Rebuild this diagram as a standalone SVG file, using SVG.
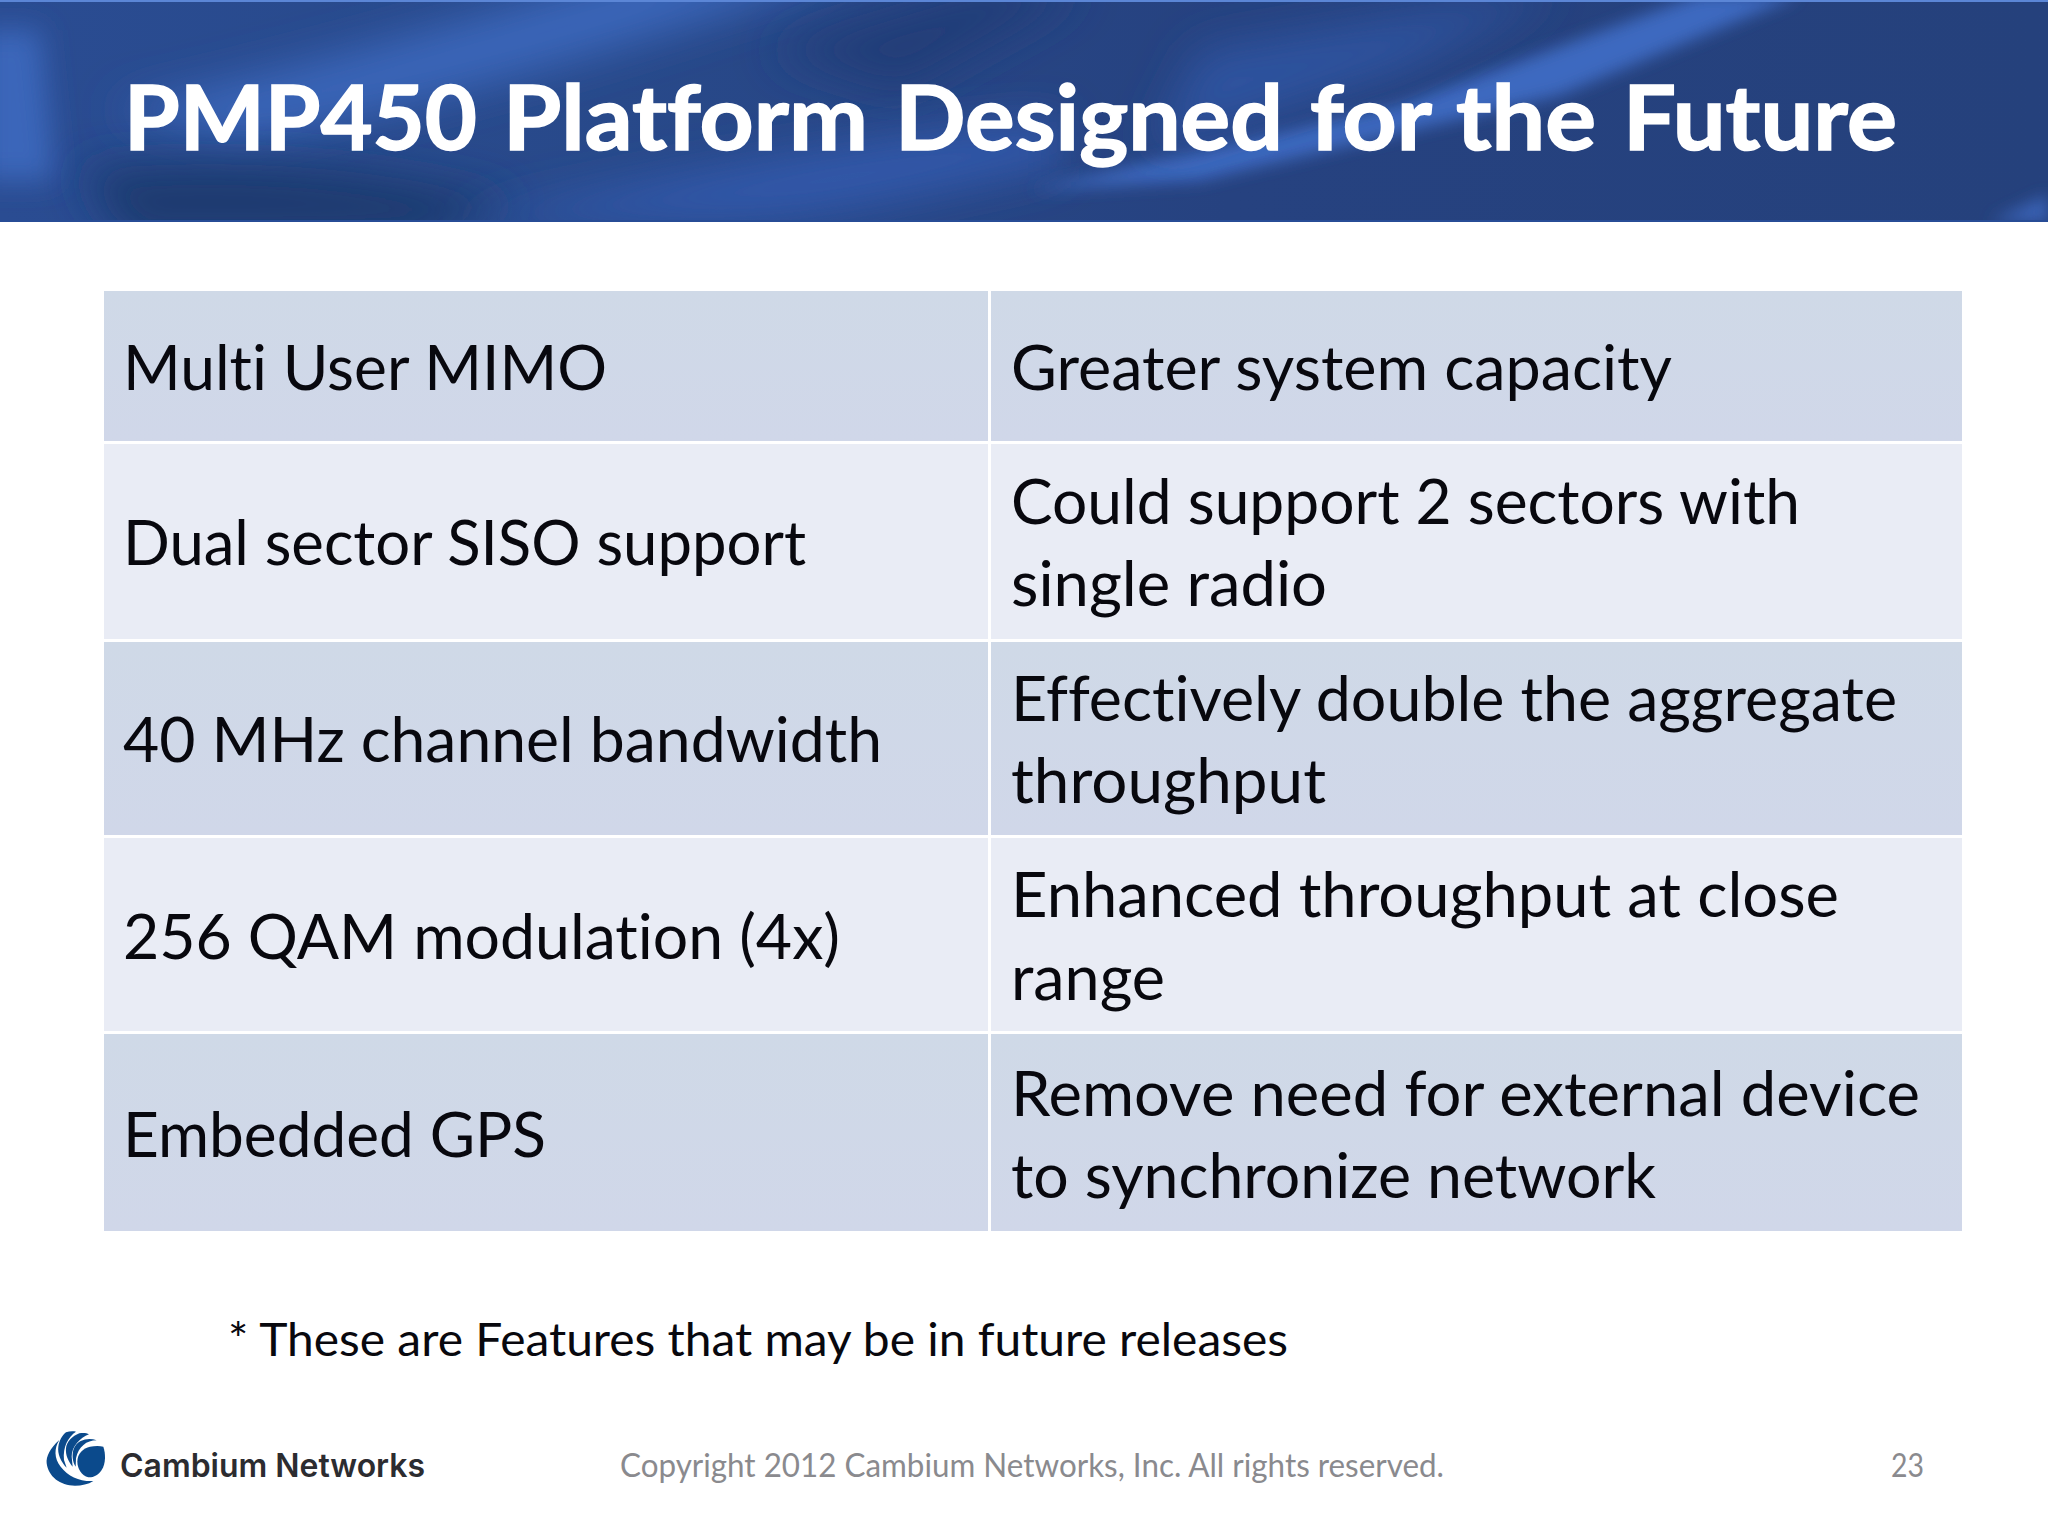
<svg xmlns="http://www.w3.org/2000/svg" width="2048" height="1536" viewBox="0 0 2048 1536">
<style>
text{font-variant-ligatures:none}
.t{font-family:Lato,"Open Sans",sans-serif;font-size:62px;fill:#08080e}
.f{font-family:Lato,"Open Sans",sans-serif;fill:#8a8a8e;font-size:32px}
.a{fill:url(#ra)}.b{fill:#e9ecf5}
</style>
<defs>
<linearGradient id="bg" x1="0" y1="0" x2="1" y2="0"><stop offset="0" stop-color="#2a4c92"/><stop offset=".3" stop-color="#28498a"/><stop offset=".6" stop-color="#264280"/><stop offset="1" stop-color="#25417c"/></linearGradient>
<linearGradient id="ra" x1="0" y1="0" x2="0" y2="1"><stop offset="0" stop-color="#cfd9e7"/><stop offset="1" stop-color="#d0d7e9"/></linearGradient>
<filter id="bl" x="-30%" y="-100%" width="160%" height="300%"><feGaussianBlur stdDeviation="22"/></filter>
<filter id="bm" x="-100%" y="-50%" width="300%" height="200%"><feGaussianBlur stdDeviation="14"/></filter>
<filter id="bs" x="-30%" y="-100%" width="160%" height="300%"><feGaussianBlur stdDeviation="8"/></filter>
<clipPath id="hc"><rect width="2048" height="222"/></clipPath>
</defs>
<g id="header">
<rect width="2048" height="222" fill="url(#bg)"/>
<g clip-path="url(#hc)">
<path d="M110 110C300 70 500 10 640 -30L860 -30C700 20 500 90 240 140Z" fill="#3a66ba" filter="url(#bl)"/>
<path d="M-20 30H40L55 180H-20Z" fill="#3a66ba" filter="url(#bm)"/>
<path d="M80 170L130 240H420L520 205C400 170 250 155 80 170Z" fill="#1f3a70" filter="url(#bl)"/>
<path d="M770 50L1000 -20L1080 -10L900 90Z" fill="#233c78" filter="url(#bl)"/>
<path d="M450 222C700 170 900 130 1060 120L1060 165C900 200 800 222 700 222Z" fill="#3159aa" filter="url(#bl)"/>
<path d="M1030 190L1400 105L1700 -5L1800 -5L1560 95L1200 180Z" fill="#3d69c0" filter="url(#bs)"/>
<path d="M1200 50L1560 -10L1400 70L1150 150Z" fill="#2f539f" filter="url(#bl)"/>
<path d="M1990 222L2048 195V222Z" fill="#3a64b8" filter="url(#bs)"/>
<rect y="0" width="2048" height="2" fill="#5b86d6"/>
<rect y="220" width="2048" height="2" fill="#274c96"/>
</g>
<text y="150" font-family="Lato,'Open Sans',sans-serif" font-weight="700" font-size="90" fill="#fff" stroke="#fff" stroke-width="1.5" xml:space="preserve"><tspan x="124" textLength="353" lengthAdjust="spacingAndGlyphs">PMP450</tspan> <tspan x="503" textLength="365" lengthAdjust="spacingAndGlyphs">Platform</tspan> <tspan x="895" textLength="388" lengthAdjust="spacingAndGlyphs">Designed</tspan> <tspan x="1310" textLength="120" lengthAdjust="spacingAndGlyphs">for</tspan> <tspan x="1456" textLength="140" lengthAdjust="spacingAndGlyphs">the</tspan> <tspan x="1623" textLength="274" lengthAdjust="spacingAndGlyphs">Future</tspan></text>
</g>
<g id="table">
<rect class="a" x="104" y="291" width="884" height="150"/><rect class="a" x="991" y="291" width="971" height="150"/>
<rect class="b" x="104" y="444" width="884" height="195"/><rect class="b" x="991" y="444" width="971" height="195"/>
<rect class="a" x="104" y="642" width="884" height="193"/><rect class="a" x="991" y="642" width="971" height="193"/>
<rect class="b" x="104" y="838" width="884" height="193"/><rect class="b" x="991" y="838" width="971" height="193"/>
<rect class="a" x="104" y="1034" width="884" height="197"/><rect class="a" x="991" y="1034" width="971" height="197"/>
</g>
<g id="labels">
<text class="t" x="123" y="390" textLength="484" lengthAdjust="spacingAndGlyphs">Multi User MIMO</text>
<text class="t" x="123" y="565" textLength="683" lengthAdjust="spacingAndGlyphs">Dual sector SISO support</text>
<text class="t" x="123" y="762" textLength="759" lengthAdjust="spacingAndGlyphs">40 MHz channel bandwidth</text>
<text class="t" x="123" y="959" textLength="717" lengthAdjust="spacingAndGlyphs">256 QAM modulation (4x)</text>
<text class="t" x="123" y="1157" textLength="423" lengthAdjust="spacingAndGlyphs">Embedded GPS</text>
<text class="t" x="1011" y="390" textLength="661" lengthAdjust="spacingAndGlyphs">Greater system capacity</text>
<text class="t" x="1011" y="524" textLength="789" lengthAdjust="spacingAndGlyphs">Could support 2 sectors with</text>
<text class="t" x="1011" y="606" textLength="316" lengthAdjust="spacingAndGlyphs">single radio</text>
<text class="t" x="1011" y="721" textLength="886" lengthAdjust="spacingAndGlyphs">Effectively double the aggregate</text>
<text class="t" x="1011" y="803" textLength="315" lengthAdjust="spacingAndGlyphs">throughput</text>
<text class="t" x="1011" y="917" textLength="828" lengthAdjust="spacingAndGlyphs">Enhanced throughput at close</text>
<text class="t" x="1011" y="1000" textLength="154" lengthAdjust="spacingAndGlyphs">range</text>
<text class="t" x="1011" y="1116" textLength="909" lengthAdjust="spacingAndGlyphs">Remove need for external device</text>
<text class="t" x="1011" y="1198" textLength="645" lengthAdjust="spacingAndGlyphs">to synchronize network</text>
</g>
<text id="note" x="228" y="1356" font-family="Lato,'Open Sans',sans-serif" font-size="47" fill="#08080e" textLength="1060" lengthAdjust="spacingAndGlyphs">* These are Features that may be in future releases</text>
<g id="footer">
<g id="logo" fill="#0b4a8c" transform="translate(40 1425) scale(.3333)">
<path d="M58 45C30 70 18 95 20 115C25 155 60 182 105 182C125 182 145 178 160 168C120 170 85 155 62 125C42 100 42 70 58 45Z"/>
<path d="M78 22C88 18 100 18 108 20C85 35 68 65 72 105L80 128C62 110 52 85 55 65C57 48 66 32 78 22Z"/>
<path d="M118 25C130 23 140 24 147 28C120 38 95 65 95 95L98 125C85 110 76 90 78 70C80 50 97 33 118 25Z"/>
<path d="M122 48C138 40 155 40 170 46C140 46 115 65 108 100L107 125C97 110 96 90 100 75C104 62 112 53 122 48Z"/>
<path d="M190 65C197 85 198 115 185 135C175 150 160 158 145 157C125 152 112 130 112 110C112 85 130 70 150 65C165 62 180 62 190 65Z"/>
</g>
<text x="120" y="1477" font-family="Inter,Lato,sans-serif" font-weight="600" font-size="32" fill="#2c2c30" textLength="305" lengthAdjust="spacingAndGlyphs">Cambium Networks</text>
<text class="f" x="620" y="1477" textLength="824" lengthAdjust="spacingAndGlyphs">Copyright 2012 Cambium Networks, Inc. All rights reserved.</text>
<text class="f" x="1891" y="1477" textLength="33" lengthAdjust="spacingAndGlyphs">23</text>
</g>
</svg>
